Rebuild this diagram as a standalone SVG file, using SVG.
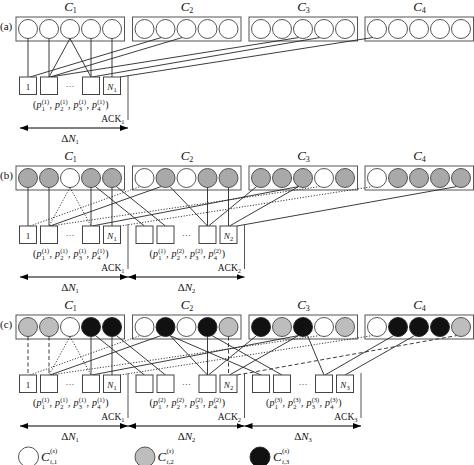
<svg xmlns="http://www.w3.org/2000/svg" width="474" height="465" viewBox="0 0 474 465">
<defs>
<marker id="ah" viewBox="0 0 8 6" refX="8" refY="3" markerWidth="8" markerHeight="6" markerUnits="userSpaceOnUse" orient="auto-start-reverse"><path d="M0,0 L8,3 L0,6 z" fill="#000"/></marker>
</defs>
<style>
text{font-family:"Liberation Serif","DejaVu Serif",serif;fill:#111}
.bx{fill:none;stroke:#555;stroke-width:1}
.cw{fill:#fff;stroke:#444;stroke-width:.9}
.cg{fill:#a9a9a9;stroke:#444;stroke-width:.9}
.cl{fill:#bdbdbd;stroke:#444;stroke-width:.9}
.ck{fill:#111;stroke:#222;stroke-width:.9}
.sq{fill:#fff;stroke:#444;stroke-width:1}
.ln{stroke:#262626;stroke-width:.9;fill:none}
.dt{stroke-dasharray:1.2 1.6}
.ds{stroke-dasharray:4 2.5}
.ack{stroke:#555;stroke-width:1}
.arr{stroke:#000;stroke-width:1;marker-start:url(#ah);marker-end:url(#ah)}
.ct{font-size:13px;font-style:italic}
.sb{font-size:8px;font-style:normal}
.i{font-style:italic}
.s{font-size:6.5px;font-style:normal}
.pl{font-size:10px}
.lt{font-size:11px}
.nm{font-size:9px}
.ak{font-size:9.5px}
.dn{font-size:11px}
</style>
<rect x="0" y="0" width="474" height="465" fill="#fff"/>

<!-- ================= PANEL A ================= -->
<g id="panel-a">
<text x="0" y="30" class="lt">(a)</text>
<g id="a-clusters">
<g id="a-C1"><text x="70.5" y="11" text-anchor="middle" class="ct">C<tspan class="sb" dy="2">1</tspan></text><rect class="bx" x="16" y="17" width="108.5" height="24"/>
<circle class="cw" cx="28" cy="29" r="9.5"/><circle class="cw" cx="49" cy="29" r="9.5"/><circle class="cw" cx="70" cy="29" r="9.5"/><circle class="cw" cx="91" cy="29" r="9.5"/><circle class="cw" cx="112" cy="29" r="9.5"/></g>
<g id="a-C2"><text x="187" y="11" text-anchor="middle" class="ct">C<tspan class="sb" dy="2">2</tspan></text><rect class="bx" x="132.5" y="17" width="108.5" height="24"/>
<circle class="cw" cx="144.5" cy="29" r="9.5"/><circle class="cw" cx="165.5" cy="29" r="9.5"/><circle class="cw" cx="186.5" cy="29" r="9.5"/><circle class="cw" cx="207.5" cy="29" r="9.5"/><circle class="cw" cx="228.5" cy="29" r="9.5"/></g>
<g id="a-C3"><text x="303.5" y="11" text-anchor="middle" class="ct">C<tspan class="sb" dy="2">3</tspan></text><rect class="bx" x="249" y="17" width="108.5" height="24"/>
<circle class="cw" cx="261" cy="29" r="9.5"/><circle class="cw" cx="282" cy="29" r="9.5"/><circle class="cw" cx="303" cy="29" r="9.5"/><circle class="cw" cx="324" cy="29" r="9.5"/><circle class="cw" cx="345" cy="29" r="9.5"/></g>
<g id="a-C4"><text x="419.5" y="11" text-anchor="middle" class="ct">C<tspan class="sb" dy="2">4</tspan></text><rect class="bx" x="365" y="17" width="108.5" height="24"/>
<circle class="cw" cx="377" cy="29" r="9.5"/><circle class="cw" cx="398" cy="29" r="9.5"/><circle class="cw" cx="419" cy="29" r="9.5"/><circle class="cw" cx="440" cy="29" r="9.5"/><circle class="cw" cx="461" cy="29" r="9.5"/></g>
</g>
<g id="a-connectors">
<path class="ln" d="M28 38.5V77M49 38.5V77M70 38.5L49 77M70 38.5L91 77M91 38.5V77M112 38.5V77M30 77L161 37.6M50 77L182 37.6M50 77L298.5 37.6M92 77L319.5 37.6M120 77L372.5 37.6"/>
</g>
<g id="a-G1">
<rect class="sq" x="19.5" y="77" width="17" height="17.5"/><rect class="sq" x="40.5" y="77" width="17" height="17.5"/><rect class="sq" x="82.5" y="77" width="17" height="17.5"/><rect class="sq" x="103.5" y="77" width="17" height="17.5"/>
<text x="28" y="89.5" text-anchor="middle" class="nm">1</text>
<text x="70" y="88.5" text-anchor="middle" class="nm">···</text>
<text x="112" y="89.5" text-anchor="middle" class="nm i">N<tspan class="s" dy="2">1</tspan></text>
<line class="ack" x1="128" y1="75" x2="128" y2="120"/>
<text x="124.5" y="121.5" text-anchor="end" class="ak">ACK<tspan class="s" dy="2">1</tspan></text>
<text class="pl"><tspan x="33" y="108">(</tspan><tspan x="36.5" y="108" class="i">p</tspan><tspan x="41.7" y="110.5" class="s">1</tspan><tspan x="41.7" y="103.5" class="s">(1)</tspan><tspan x="49.4" y="108">,</tspan><tspan x="55" y="108" class="i">p</tspan><tspan x="60.2" y="110.5" class="s">2</tspan><tspan x="60.2" y="103.5" class="s">(1)</tspan><tspan x="67.9" y="108">,</tspan><tspan x="73.5" y="108" class="i">p</tspan><tspan x="78.7" y="110.5" class="s">3</tspan><tspan x="78.7" y="103.5" class="s">(1)</tspan><tspan x="86.4" y="108">,</tspan><tspan x="92" y="108" class="i">p</tspan><tspan x="97.2" y="110.5" class="s">4</tspan><tspan x="97.2" y="103.5" class="s">(1)</tspan><tspan x="105.2" y="108">)</tspan></text>
<line class="arr" x1="20" y1="128" x2="128" y2="128"/>
<text x="70" y="142" text-anchor="middle" class="dn">Δ<tspan class="i">N</tspan><tspan class="s" dy="2">1</tspan></text>
</g>
</g>

<!-- ================= PANEL B ================= -->
<g id="panel-b" transform="translate(0,149)">
<text x="0" y="30" class="lt">(b)</text>
<g id="b-clusters">
<g id="b-C1"><text x="70.5" y="11" text-anchor="middle" class="ct">C<tspan class="sb" dy="2">1</tspan></text><rect class="bx" x="16" y="17" width="108.5" height="24"/>
<circle class="cg" cx="28" cy="29" r="9.5"/><circle class="cg" cx="49" cy="29" r="9.5"/><circle class="cw" cx="70" cy="29" r="9.5"/><circle class="cg" cx="91" cy="29" r="9.5"/><circle class="cg" cx="112" cy="29" r="9.5"/></g>
<g id="b-C2"><text x="187" y="11" text-anchor="middle" class="ct">C<tspan class="sb" dy="2">2</tspan></text><rect class="bx" x="132.5" y="17" width="108.5" height="24"/>
<circle class="cw" cx="144.5" cy="29" r="9.5"/><circle class="cg" cx="165.5" cy="29" r="9.5"/><circle class="cw" cx="186.5" cy="29" r="9.5"/><circle class="cg" cx="207.5" cy="29" r="9.5"/><circle class="cg" cx="228.5" cy="29" r="9.5"/></g>
<g id="b-C3"><text x="303.5" y="11" text-anchor="middle" class="ct">C<tspan class="sb" dy="2">3</tspan></text><rect class="bx" x="249" y="17" width="108.5" height="24"/>
<circle class="cg" cx="261" cy="29" r="9.5"/><circle class="cg" cx="282" cy="29" r="9.5"/><circle class="cg" cx="303" cy="29" r="9.5"/><circle class="cw" cx="324" cy="29" r="9.5"/><circle class="cg" cx="345" cy="29" r="9.5"/></g>
<g id="b-C4"><text x="419.5" y="11" text-anchor="middle" class="ct">C<tspan class="sb" dy="2">4</tspan></text><rect class="bx" x="365" y="17" width="108.5" height="24"/>
<circle class="cw" cx="377" cy="29" r="9.5"/><circle class="cg" cx="398" cy="29" r="9.5"/><circle class="cg" cx="419" cy="29" r="9.5"/><circle class="cg" cx="440" cy="29" r="9.5"/><circle class="cg" cx="461" cy="29" r="9.5"/></g>
</g>
<g id="b-connectors">
<path class="ln" d="M28 38.5V77M49 38.5V77M91 38.5V77M112 38.5V77M95.5 37.6L144.5 77M116.5 37.6L165.5 77M50 77L161 37.6M92 77L298.5 37.6M170 37.6L207.5 77M207.5 38.5V77M228.5 38.5V77M256.5 37.6L208.5 77M298.5 37.6L229.5 77M237 77L456.5 37.6"/>
<path class="ln dt" d="M70 38.5L49 77M70 38.5L91 77M30 77L140 37.6M50 77L319.5 37.6M120 77L372.5 37.6"/>
</g>
<g id="b-G1">
<rect class="sq" x="19.5" y="77" width="17" height="17.5"/><rect class="sq" x="40.5" y="77" width="17" height="17.5"/><rect class="sq" x="82.5" y="77" width="17" height="17.5"/><rect class="sq" x="103.5" y="77" width="17" height="17.5"/>
<text x="28" y="89.5" text-anchor="middle" class="nm">1</text>
<text x="70" y="88.5" text-anchor="middle" class="nm">···</text>
<text x="112" y="89.5" text-anchor="middle" class="nm i">N<tspan class="s" dy="2">1</tspan></text>
<line class="ack" x1="128" y1="75" x2="128" y2="120"/>
<text x="124.5" y="121.5" text-anchor="end" class="ak">ACK<tspan class="s" dy="2">1</tspan></text>
<text class="pl"><tspan x="33" y="108">(</tspan><tspan x="36.5" y="108" class="i">p</tspan><tspan x="41.7" y="110.5" class="s">1</tspan><tspan x="41.7" y="103.5" class="s">(1)</tspan><tspan x="49.4" y="108">,</tspan><tspan x="55" y="108" class="i">p</tspan><tspan x="60.2" y="110.5" class="s">2</tspan><tspan x="60.2" y="103.5" class="s">(1)</tspan><tspan x="67.9" y="108">,</tspan><tspan x="73.5" y="108" class="i">p</tspan><tspan x="78.7" y="110.5" class="s">3</tspan><tspan x="78.7" y="103.5" class="s">(1)</tspan><tspan x="86.4" y="108">,</tspan><tspan x="92" y="108" class="i">p</tspan><tspan x="97.2" y="110.5" class="s">4</tspan><tspan x="97.2" y="103.5" class="s">(1)</tspan><tspan x="105.2" y="108">)</tspan></text>
<line class="arr" x1="20" y1="128" x2="128" y2="128"/>
<text x="70" y="142" text-anchor="middle" class="dn">Δ<tspan class="i">N</tspan><tspan class="s" dy="2">1</tspan></text>
</g>
<g id="b-G2" transform="translate(116.5,0)">
<rect class="sq" x="19.5" y="77" width="17" height="17.5"/><rect class="sq" x="40.5" y="77" width="17" height="17.5"/><rect class="sq" x="82.5" y="77" width="17" height="17.5"/><rect class="sq" x="103.5" y="77" width="17" height="17.5"/>
<text x="70" y="88.5" text-anchor="middle" class="nm">···</text>
<text x="112" y="89.5" text-anchor="middle" class="nm i">N<tspan class="s" dy="2">2</tspan></text>
<line class="ack" x1="128" y1="75" x2="128" y2="120"/>
<text x="124.5" y="121.5" text-anchor="end" class="ak">ACK<tspan class="s" dy="2">2</tspan></text>
<text class="pl"><tspan x="33" y="108">(</tspan><tspan x="36.5" y="108" class="i">p</tspan><tspan x="41.7" y="110.5" class="s">1</tspan><tspan x="41.7" y="103.5" class="s">(1)</tspan><tspan x="49.4" y="108">,</tspan><tspan x="55" y="108" class="i">p</tspan><tspan x="60.2" y="110.5" class="s">2</tspan><tspan x="60.2" y="103.5" class="s">(2)</tspan><tspan x="67.9" y="108">,</tspan><tspan x="73.5" y="108" class="i">p</tspan><tspan x="78.7" y="110.5" class="s">3</tspan><tspan x="78.7" y="103.5" class="s">(2)</tspan><tspan x="86.4" y="108">,</tspan><tspan x="92" y="108" class="i">p</tspan><tspan x="97.2" y="110.5" class="s">4</tspan><tspan x="97.2" y="103.5" class="s">(2)</tspan><tspan x="105.2" y="108">)</tspan></text>
<line class="arr" x1="11.5" y1="128" x2="128" y2="128"/>
<text x="70" y="142" text-anchor="middle" class="dn">Δ<tspan class="i">N</tspan><tspan class="s" dy="2">2</tspan></text>
</g>
</g>

<!-- ================= PANEL C ================= -->
<g id="panel-c" transform="translate(0,298)">
<text x="0" y="30" class="lt">(c)</text>
<g id="c-clusters">
<g id="c-C1"><text x="70.5" y="11" text-anchor="middle" class="ct">C<tspan class="sb" dy="2">1</tspan></text><rect class="bx" x="16" y="17" width="108.5" height="24"/>
<circle class="cl" cx="28" cy="29" r="9.5"/><circle class="cl" cx="49" cy="29" r="9.5"/><circle class="cw" cx="70" cy="29" r="9.5"/><circle class="ck" cx="91" cy="29" r="9.5"/><circle class="ck" cx="112" cy="29" r="9.5"/></g>
<g id="c-C2"><text x="187" y="11" text-anchor="middle" class="ct">C<tspan class="sb" dy="2">2</tspan></text><rect class="bx" x="132.5" y="17" width="108.5" height="24"/>
<circle class="cw" cx="144.5" cy="29" r="9.5"/><circle class="ck" cx="165.5" cy="29" r="9.5"/><circle class="cw" cx="186.5" cy="29" r="9.5"/><circle class="ck" cx="207.5" cy="29" r="9.5"/><circle class="cl" cx="228.5" cy="29" r="9.5"/></g>
<g id="c-C3"><text x="303.5" y="11" text-anchor="middle" class="ct">C<tspan class="sb" dy="2">3</tspan></text><rect class="bx" x="249" y="17" width="108.5" height="24"/>
<circle class="ck" cx="261" cy="29" r="9.5"/><circle class="cl" cx="282" cy="29" r="9.5"/><circle class="ck" cx="303" cy="29" r="9.5"/><circle class="cw" cx="324" cy="29" r="9.5"/><circle class="cl" cx="345" cy="29" r="9.5"/></g>
<g id="c-C4"><text x="419.5" y="11" text-anchor="middle" class="ct">C<tspan class="sb" dy="2">4</tspan></text><rect class="bx" x="365" y="17" width="108.5" height="24"/>
<circle class="cw" cx="377" cy="29" r="9.5"/><circle class="ck" cx="398" cy="29" r="9.5"/><circle class="ck" cx="419" cy="29" r="9.5"/><circle class="ck" cx="440" cy="29" r="9.5"/><circle class="cl" cx="461" cy="29" r="9.5"/></g>
</g>
<g id="c-connectors">
<path class="ln" d="M91 38.5V77M112 38.5V77M95.5 37.6L144.5 77M116.5 37.6L165.5 77M50 77L161 37.6M92 77L298.5 37.6M170 37.6L207.5 77M207.5 38.5V77M256.5 37.6L208.5 77M298.5 37.6L229.5 77M170 37.6L261 77M212 37.6L282 77M307.5 37.6L324 77M393.5 37.6L325 77M414.5 37.6L345 77"/>
<path class="ln ds" d="M28 38.5V77M49 38.5V77M228.5 38.5V77M237 77L456.5 37.6"/>
<path class="ln dt" d="M70 38.5L49 77M70 38.5L91 77M30 77L140 37.6M50 77L319.5 37.6M120 77L372.5 37.6"/>
</g>
<g id="c-G1">
<rect class="sq" x="19.5" y="77" width="17" height="17.5"/><rect class="sq" x="40.5" y="77" width="17" height="17.5"/><rect class="sq" x="82.5" y="77" width="17" height="17.5"/><rect class="sq" x="103.5" y="77" width="17" height="17.5"/>
<text x="28" y="89.5" text-anchor="middle" class="nm">1</text>
<text x="70" y="88.5" text-anchor="middle" class="nm">···</text>
<text x="112" y="89.5" text-anchor="middle" class="nm i">N<tspan class="s" dy="2">1</tspan></text>
<line class="ack" x1="128" y1="75" x2="128" y2="120"/>
<text x="124.5" y="121.5" text-anchor="end" class="ak">ACK<tspan class="s" dy="2">1</tspan></text>
<text class="pl"><tspan x="33" y="108">(</tspan><tspan x="36.5" y="108" class="i">p</tspan><tspan x="41.7" y="110.5" class="s">1</tspan><tspan x="41.7" y="103.5" class="s">(1)</tspan><tspan x="49.4" y="108">,</tspan><tspan x="55" y="108" class="i">p</tspan><tspan x="60.2" y="110.5" class="s">2</tspan><tspan x="60.2" y="103.5" class="s">(1)</tspan><tspan x="67.9" y="108">,</tspan><tspan x="73.5" y="108" class="i">p</tspan><tspan x="78.7" y="110.5" class="s">3</tspan><tspan x="78.7" y="103.5" class="s">(1)</tspan><tspan x="86.4" y="108">,</tspan><tspan x="92" y="108" class="i">p</tspan><tspan x="97.2" y="110.5" class="s">4</tspan><tspan x="97.2" y="103.5" class="s">(1)</tspan><tspan x="105.2" y="108">)</tspan></text>
<line class="arr" x1="20" y1="128" x2="128" y2="128"/>
<text x="70" y="142" text-anchor="middle" class="dn">Δ<tspan class="i">N</tspan><tspan class="s" dy="2">1</tspan></text>
</g>
<g id="c-G2" transform="translate(116.5,0)">
<rect class="sq" x="19.5" y="77" width="17" height="17.5"/><rect class="sq" x="40.5" y="77" width="17" height="17.5"/><rect class="sq" x="82.5" y="77" width="17" height="17.5"/><rect class="sq" x="103.5" y="77" width="17" height="17.5"/>
<text x="70" y="88.5" text-anchor="middle" class="nm">···</text>
<text x="112" y="89.5" text-anchor="middle" class="nm i">N<tspan class="s" dy="2">2</tspan></text>
<line class="ack" x1="128" y1="75" x2="128" y2="120"/>
<text x="124.5" y="121.5" text-anchor="end" class="ak">ACK<tspan class="s" dy="2">2</tspan></text>
<text class="pl"><tspan x="33" y="108">(</tspan><tspan x="36.5" y="108" class="i">p</tspan><tspan x="41.7" y="110.5" class="s">1</tspan><tspan x="41.7" y="103.5" class="s">(2)</tspan><tspan x="49.4" y="108">,</tspan><tspan x="55" y="108" class="i">p</tspan><tspan x="60.2" y="110.5" class="s">2</tspan><tspan x="60.2" y="103.5" class="s">(2)</tspan><tspan x="67.9" y="108">,</tspan><tspan x="73.5" y="108" class="i">p</tspan><tspan x="78.7" y="110.5" class="s">3</tspan><tspan x="78.7" y="103.5" class="s">(2)</tspan><tspan x="86.4" y="108">,</tspan><tspan x="92" y="108" class="i">p</tspan><tspan x="97.2" y="110.5" class="s">4</tspan><tspan x="97.2" y="103.5" class="s">(2)</tspan><tspan x="105.2" y="108">)</tspan></text>
<line class="arr" x1="11.5" y1="128" x2="128" y2="128"/>
<text x="70" y="142" text-anchor="middle" class="dn">Δ<tspan class="i">N</tspan><tspan class="s" dy="2">2</tspan></text>
</g>
<g id="c-G3" transform="translate(233,0)">
<rect class="sq" x="19.5" y="77" width="17" height="17.5"/><rect class="sq" x="40.5" y="77" width="17" height="17.5"/><rect class="sq" x="82.5" y="77" width="17" height="17.5"/><rect class="sq" x="103.5" y="77" width="17" height="17.5"/>
<text x="70" y="88.5" text-anchor="middle" class="nm">···</text>
<text x="112" y="89.5" text-anchor="middle" class="nm i">N<tspan class="s" dy="2">3</tspan></text>
<line class="ack" x1="128" y1="75" x2="128" y2="120"/>
<text x="124.5" y="121.5" text-anchor="end" class="ak">ACK<tspan class="s" dy="2">3</tspan></text>
<text class="pl"><tspan x="33" y="108">(</tspan><tspan x="36.5" y="108" class="i">p</tspan><tspan x="41.7" y="110.5" class="s">1</tspan><tspan x="41.7" y="103.5" class="s">(3)</tspan><tspan x="49.4" y="108">,</tspan><tspan x="55" y="108" class="i">p</tspan><tspan x="60.2" y="110.5" class="s">2</tspan><tspan x="60.2" y="103.5" class="s">(3)</tspan><tspan x="67.9" y="108">,</tspan><tspan x="73.5" y="108" class="i">p</tspan><tspan x="78.7" y="110.5" class="s">3</tspan><tspan x="78.7" y="103.5" class="s">(3)</tspan><tspan x="86.4" y="108">,</tspan><tspan x="92" y="108" class="i">p</tspan><tspan x="97.2" y="110.5" class="s">4</tspan><tspan x="97.2" y="103.5" class="s">(3)</tspan><tspan x="105.2" y="108">)</tspan></text>
<line class="arr" x1="11.5" y1="128" x2="128" y2="128"/>
<text x="70" y="142" text-anchor="middle" class="dn">Δ<tspan class="i">N</tspan><tspan class="s" dy="2">3</tspan></text>
</g>
</g>

<!-- ================= LEGEND ================= -->
<g id="legend">
<g id="legend-1"><circle class="cw" cx="28.5" cy="457" r="10"/>
<text font-size="13"><tspan x="41" y="461" class="i">C</tspan><tspan x="50" y="464" font-size="7"><tspan class="i">i</tspan>,1</tspan><tspan x="50" y="453" font-size="7">(<tspan class="i">s</tspan>)</tspan></text></g>
<g id="legend-2"><circle class="cl" cx="145" cy="457" r="10"/>
<text font-size="13"><tspan x="157.5" y="461" class="i">C</tspan><tspan x="166.5" y="464" font-size="7"><tspan class="i">i</tspan>,2</tspan><tspan x="166.5" y="453" font-size="7">(<tspan class="i">s</tspan>)</tspan></text></g>
<g id="legend-3"><circle class="ck" cx="260" cy="457" r="10"/>
<text font-size="13"><tspan x="273" y="461" class="i">C</tspan><tspan x="282" y="464" font-size="7"><tspan class="i">i</tspan>,3</tspan><tspan x="282" y="453" font-size="7">(<tspan class="i">s</tspan>)</tspan></text></g>
</g>
</svg>
